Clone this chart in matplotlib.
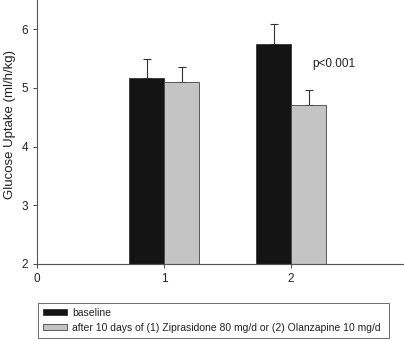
import matplotlib
matplotlib.use("Agg")
import matplotlib.pyplot as plt
import numpy as np

plt.rcParams['font.family'] = ['Liberation Sans', 'DejaVu Sans']

# data
groups = [1, 2]
baseline = [5.17, 5.75]
baseline_err = [0.32, 0.34]
after = [5.10, 4.71]
after_err = [0.26, 0.25]
labels = ["baseline", "after 10 days of (1) Ziprasidone 80 mg/d or (2) Olanzapine 10 mg/d"]

fig = plt.figure(figsize=(4.04, 3.41), dpi=100)
ax = fig.add_axes([37/404, 1 - 264/341, 366/404, 264/341])

w = 0.275
x = np.array(groups)
b1 = ax.bar(x - w/2, baseline, w, color="#141414", edgecolor="#333333", linewidth=0.6,
            label=labels[0], zorder=2)
b2 = ax.bar(x + w/2, after, w, color="#c4c4c4", edgecolor="#444444", linewidth=0.6,
            label=labels[1], zorder=2)
ax.errorbar(x - w/2, baseline, yerr=[np.zeros(2), baseline_err], fmt="none", ecolor="#333333",
            elinewidth=0.8, capsize=3, capthick=0.8, zorder=1)
ax.errorbar(x + w/2, after, yerr=[np.zeros(2), after_err], fmt="none", ecolor="#333333",
            elinewidth=0.8, capsize=3, capthick=0.8, zorder=1)

ax.text(2.17, 5.41, "p<0.001", fontsize=8.5, va="center", ha="left", color="#222222")

ax.set_ylim(2, 6.5)
ax.set_xlim(0, 2.88)
ax.set_yticks([2, 3, 4, 5, 6])
ax.set_xticks([0, 1, 2])
ax.tick_params(labelsize=8.5, length=3, width=0.7, color="#444444", labelcolor="#222222")
ax.set_ylabel("Glucose Uptake (ml/h/kg)", fontsize=9.5, color="#222222")
ax.yaxis.set_label_coords(-0.057, 0.527)
for s in ["top", "right"]:
    ax.spines[s].set_visible(False)
for s in ["left", "bottom"]:
    ax.spines[s].set_color("#555555")
    ax.spines[s].set_linewidth(0.8)

leg = fig.legend(handles=[b1, b2], loc="lower left",
                 bbox_to_anchor=(38/404, 3/341, 351/404, 37/341), mode="expand",
                 fontsize=7.5, frameon=True, fancybox=False, edgecolor="#444444",
                 handlelength=2.3, handleheight=0.5, borderaxespad=0, labelspacing=0.45,
                 handletextpad=0.5, borderpad=0.5)
leg.get_frame().set_linewidth(0.7)
for t in leg.get_texts():
    t.set_color("#222222")

fig.savefig("out.png", dpi=100)
